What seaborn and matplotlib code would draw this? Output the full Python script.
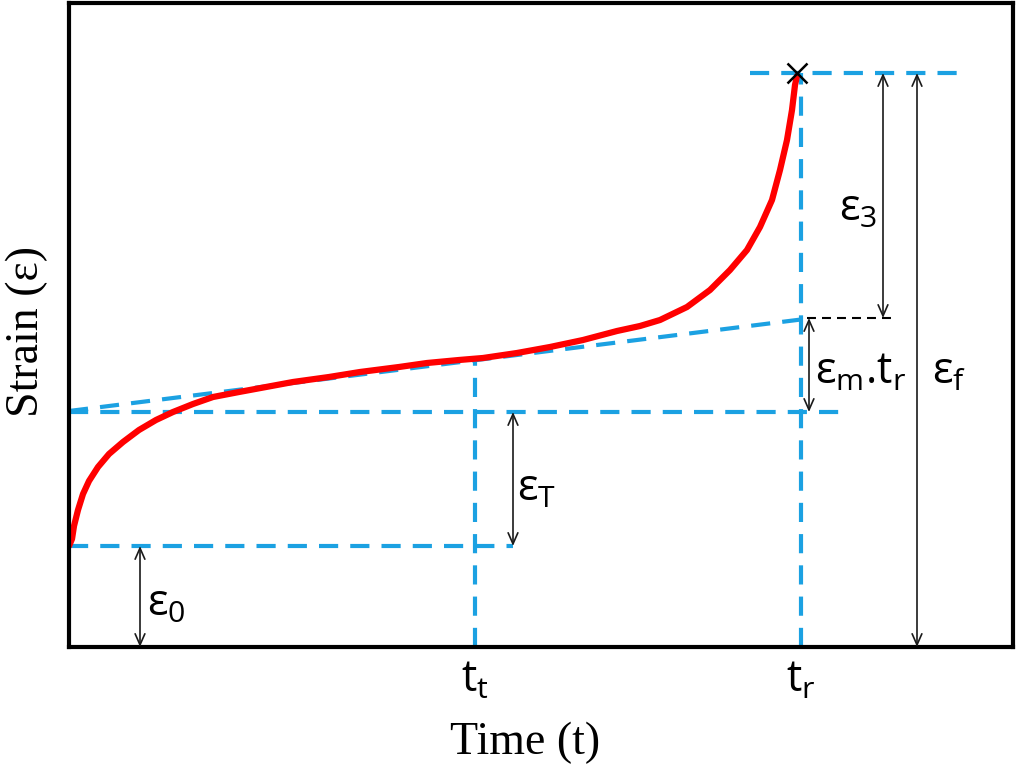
import matplotlib
matplotlib.use("Agg")
import matplotlib.pyplot as plt
import seaborn as sns

sns.set_theme(style="white")

plt.rcParams["font.family"] = ["Open Sans", "DejaVu Sans"]
plt.rcParams["mathtext.fontset"] = "custom"
plt.rcParams["mathtext.rm"] = "Open Sans"
plt.rcParams["mathtext.it"] = "Open Sans"
plt.rcParams["mathtext.default"] = "rm"
plt.rcParams["text.color"] = "black"

BLUE = "#1ba1e2"
ARROW = "#1a1a1a"

# creep curve (time, strain in arbitrary units)
time_curve = [0, 3, 5, 9, 14, 20, 29, 40, 54, 70, 87, 104, 124, 144, 170, 197,
              224, 260, 291, 330, 358, 390, 414, 448, 481, 514, 548, 571, 591,
              618, 641, 661, 678, 691, 703, 711, 718, 723, 726, 728]
strain_curve = [101, 108, 121, 137, 153, 166, 180, 193, 205, 217, 227, 235, 243, 250, 255, 260,
                265, 270, 275, 280, 284, 287, 289, 294, 300, 307, 316, 321, 327,
                340, 357, 377, 397, 420, 447, 477, 507, 537, 562, 571]

# characteristic times and strains
t_t = 406
t_r = 732
eps_0 = 101          # instantaneous strain
eps_T = 235          # end of transient (tangent intercept)
eps_tan_r = 328      # tangent value at t_r
eps_f = 574          # fracture strain

tangent_t = [0, 736]
tangent_eps = [eps_T + 1, eps_tan_r]

fig = plt.figure(figsize=(10.2, 7.73), dpi=100)
ax = fig.add_axes([69 / 1020, 126 / 773, 944 / 1020, 644 / 773])

blue_kw = dict(color=BLUE, lw=3, dashes=(4.6, 2.9))

# construction lines
ax.plot([0, 444], [eps_0, eps_0], **blue_kw)
ax.plot([0, 771], [eps_T, eps_T], **blue_kw)
ax.plot(tangent_t, tangent_eps, **blue_kw)
ax.plot([681, 888], [eps_f, eps_f], **blue_kw)
ax.plot([t_t, t_t], [0, 289], **blue_kw)
ax.plot([t_r, t_r], [0, eps_f], **blue_kw)
ax.plot([738, 826], [eps_tan_r + 1, eps_tan_r + 1], color="black", lw=1.5, dashes=(4.3, 2.9))

# creep curve
sns.lineplot(x=time_curve, y=strain_curve, sort=False, color="red", lw=4.5, ax=ax,
             solid_joinstyle="round", solid_capstyle="round")
ax.plot([time_curve[-1]], [strain_curve[-1] + 3], marker="x", color="black",
        markersize=14, mew=1.8)

def dim_arrow(x, y0, y1):
    ax.annotate("", xy=(x, y1), xytext=(x, y0),
                arrowprops=dict(arrowstyle="<->,head_length=0.8,head_width=0.35",
                                lw=1.2, color=ARROW, shrinkA=0, shrinkB=0,
                                mutation_scale=10))

dim_arrow(71, 0, eps_0)
dim_arrow(444, eps_0, eps_T)
dim_arrow(740, eps_T, eps_tan_r + 1)
dim_arrow(814, eps_tan_r + 1, eps_f)
dim_arrow(848, 0, eps_f)

fs = 31
ax.text(78, 42, "ε$_0$", fontsize=fs, va="center", ha="left")
ax.text(448, 157, "ε$_T$", fontsize=fs, va="center", ha="left")
ax.text(746, 274, "ε$_m$.t$_r$", fontsize=fs, va="center", ha="left")
ax.text(770, 437, "ε$_3$", fontsize=fs, va="center", ha="left")
ax.text(863, 274, "ε$_f$", fontsize=fs, va="center", ha="left")

ax.set_xlim(0, 944)
ax.set_ylim(0, 644)
ax.set_xticks([t_t, t_r], labels=["t$_t$", "t$_r$"])
ax.set_yticks([])
ax.tick_params(axis="x", length=0, pad=8, labelsize=fs, colors="black")

ax.set_xlabel("Time (t)", family="Liberation Serif", fontsize=33, color="black")
ax.set_ylabel("Strain (ε)", family="Liberation Serif", fontsize=33, color="black")
ax.xaxis.set_label_coords(0.483, -0.116)
ax.yaxis.set_label_coords(-0.022, 0.49)

for sp in ax.spines.values():
    sp.set_visible(True)
    sp.set_color("black")
    sp.set_linewidth(3)

fig.savefig("out.png", dpi=100)
